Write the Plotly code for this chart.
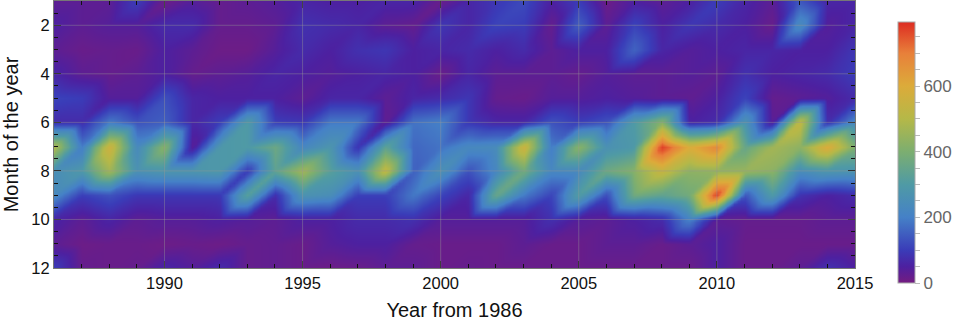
import numpy as np
import plotly.graph_objects as go

years = list(range(1986, 2016))
months = list(range(1, 13))

# one row per month, one value per year
m1 = [30,30,30,100,10,40,20,30,40,60,50,50,60,60,15,60,90,120,50,100,10,50,30,50,100,60,30,140,60,60]
m2 = [50,30,40,40,70,70,20,20,30,80,70,60,30,20,90,60,110,100,20,150,30,110,50,90,70,50,15,240,40,60]
m3 = [30,15,20,15,50,30,10,10,40,70,50,80,90,50,60,70,50,70,30,50,50,160,60,40,50,60,60,50,50,90]
m4 = [60,30,20,30,50,20,30,40,60,50,40,50,60,50,15,60,30,30,30,20,40,30,30,40,30,80,50,60,70,100]
m5 = [110,100,40,40,130,60,50,50,50,30,60,60,30,60,70,90,20,15,40,40,50,40,30,25,50,110,20,30,40,70]
m6 = [70,70,190,130,150,60,100,300,100,90,190,190,25,180,200,90,60,60,130,100,130,300,420,50,70,270,30,540,70,220]
m7 = [500,190,570,230,430,30,290,300,370,220,280,80,340,160,180,230,240,570,190,430,260,290,790,600,690,350,470,430,610,400]
m8 = [250,290,470,260,280,280,290,90,340,470,320,260,540,150,260,130,220,380,220,230,370,420,540,430,440,450,430,240,280,270]
m9 = [230,100,130,90,90,90,90,330,70,270,250,100,100,190,110,60,360,190,110,310,120,380,340,380,795,130,300,80,50,70]
m10 = [60,30,60,30,40,40,50,40,30,50,50,70,70,80,40,40,40,40,80,40,30,50,70,210,30,20,20,20,30,30]
m11 = [30,10,15,15,10,15,10,20,25,15,40,50,50,20,15,15,15,30,15,15,30,30,15,30,50,15,15,15,15,15]
m12 = [100,20,15,20,60,40,70,20,25,15,10,15,30,30,15,20,15,15,15,15,15,15,15,15,50,15,15,30,80,50]

z_max = 795
color_stops = [
    [0, "#741c80"], [0.063, "#4d20a0"], [0.126, "#3a3cb8"], [0.252, "#4581c7"],
    [0.377, "#4f9aa5"], [0.503, "#7cae70"], [0.629, "#b5b848"], [0.755, "#dcab3a"],
    [0.88, "#e8803a"], [1, "#dd2c22"],
]

values = np.array([m1, m2, m3, m4, m5, m6, m7, m8, m9, m10, m11, m12], dtype=float)


# same piecewise linear surface as a density plot: each cell is split in two
# triangles along the diagonal going up and to the right
def triangulate(grid, steps_x=8, steps_y=8):
    rows, cols = grid.shape
    gx = np.linspace(0, cols - 1, (cols - 1) * steps_x + 1)
    gy = np.linspace(0, rows - 1, (rows - 1) * steps_y + 1)
    out = np.zeros((len(gy), len(gx)))
    for a, py in enumerate(gy):
        for b, px in enumerate(gx):
            i = min(int(py), rows - 2)
            j = min(int(px), cols - 2)
            u = px - j
            v = py - i
            if u + v <= 1:
                out[a, b] = grid[i, j] + u * (grid[i, j + 1] - grid[i, j]) + v * (grid[i + 1, j] - grid[i, j])
            else:
                out[a, b] = grid[i + 1, j + 1] + (1 - u) * (grid[i + 1, j] - grid[i + 1, j + 1]) + (1 - v) * (grid[i, j + 1] - grid[i + 1, j + 1])
    return years[0] + gx, months[0] + gy, out


# the reference is a soft, slightly blurred raster
def soften(out):
    padded = np.pad(out, 1, mode="edge")
    a = (padded[:-2, 1:-1] + 6 * padded[1:-1, 1:-1] + padded[2:, 1:-1]) / 8
    padded = np.pad(a, 1, mode="edge")
    return (padded[1:-1, :-2] + 6 * padded[1:-1, 1:-1] + padded[1:-1, 2:]) / 8


gx, gy, gz = triangulate(values)
gz = soften(gz)

tick_font = dict(family="Liberation Sans", size=16.5, color="#111111")
title_font = dict(family="Liberation Sans", size=20, color="#111111")

fig = go.Figure(go.Heatmap(
    x=gx, y=gy, z=gz,
    zsmooth="best",
    zmin=0, zmax=z_max,
    colorscale=color_stops,
    colorbar=dict(
        thickness=17, thicknessmode="pixels",
        len=261, lenmode="pixels",
        x=(898 - 54) / 801, xanchor="left",
        y=-(283 - 268) / 267, yanchor="bottom",
        xpad=0, ypad=0,
        tickvals=list(range(0, 800, 50)),
        ticktext=[str(v) if v % 200 == 0 else "" for v in range(0, 800, 50)],
        ticks="outside", ticklen=5, tickcolor="#bbbbbb",
        tickfont=dict(family="Liberation Sans", size=17, color="#666666"),
        outlinecolor="#aaaaaa", outlinewidth=1,
    ),
))

# the grid lines sit over the colours
for yr in range(1990, 2015, 5):
    fig.add_shape(type="line", x0=yr, x1=yr, y0=0, y1=1, xref="x", yref="paper",
                  line=dict(color="rgba(150,150,150,0.42)", width=1), layer="above")
for mo in range(2, 12, 2):
    fig.add_shape(type="line", x0=0, x1=1, y0=mo, y1=mo, xref="paper", yref="y",
                  line=dict(color="rgba(150,150,150,0.42)", width=1), layer="above")

fig.update_xaxes(
    range=[1986, 2015], tickvals=list(range(1990, 2016, 5)),
    title=dict(text="Year from 1986", font=title_font, standoff=12),
    tickfont=tick_font, ticks="inside", ticklen=7, tickcolor="#111111",
    showgrid=False, zeroline=False, showline=True, linecolor="#777777", linewidth=1, mirror="allticks",
    minor=dict(dtick=1, ticks="inside", ticklen=4, tickcolor="#111111", showgrid=False),
)
fig.update_yaxes(
    range=[12, 1], tickvals=list(range(2, 13, 2)),
    title=dict(text="Month of the year", font=title_font, standoff=8),
    tickfont=tick_font, ticks="inside", ticklen=7, tickcolor="#111111",
    showgrid=False, zeroline=False, showline=True, linecolor="#777777", linewidth=1, mirror="allticks",
    minor=dict(dtick=0.5, ticks="inside", ticklen=4, tickcolor="#111111", showgrid=False),
)
fig.update_layout(
    width=959, height=325,
    margin=dict(l=54, r=104, t=1, b=57, autoexpand=False),
    paper_bgcolor="white", plot_bgcolor="white",
)

fig.write_html("out.html", config=dict(displayModeBar=False),
               post_script="document.body.style.margin='0';window.dispatchEvent(new Event('resize'));")
